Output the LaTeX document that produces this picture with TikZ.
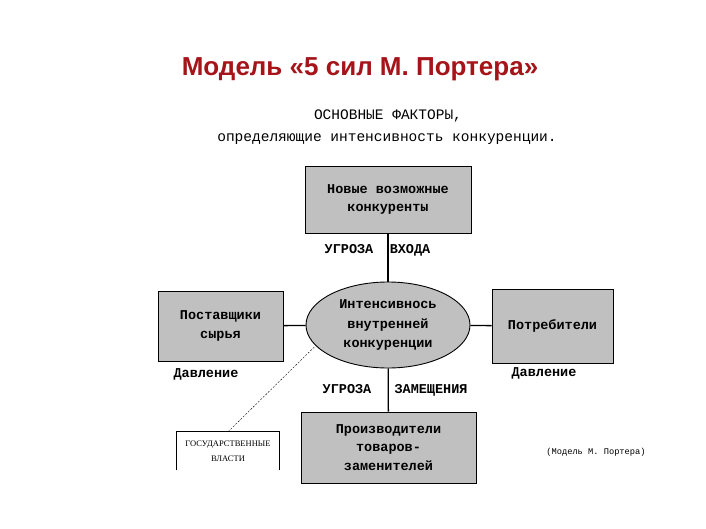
\documentclass[tikz,border=0pt]{standalone}
\usepackage{fontspec}
\setmainfont{Liberation Serif}
\setsansfont{Liberation Sans}
\setmonofont{Liberation Mono}
\usepackage{xcolor}
\usetikzlibrary{shapes.geometric}
\definecolor{titlered}{RGB}{165,20,25}
\definecolor{boxgray}{RGB}{192,192,192}

\begin{document}
\begin{tikzpicture}[x=1pt,y=-1pt,
  box/.style={draw,fill=boxgray,line width=0.9pt,inner sep=0pt,align=center,
    font=\ttfamily\bfseries\fontsize{13.5}{18.5}\selectfont},
  lbl/.style={anchor=base,inner sep=0pt,font=\ttfamily\bfseries\fontsize{13.5}{16}\selectfont},
  link/.style={line width=1.3pt}]
  \useasboundingbox (0,0) rectangle (706,529);
  % Title and heading
  \node[anchor=base,text=titlered,font=\sffamily\bfseries\fontsize{26}{30}\selectfont]
    (title) at (360,76) {Модель «5 сил М. Портера»};
  \node[anchor=base,font=\ttfamily\fontsize{14.5}{18}\selectfont] (hdrA) at (388,120) {ОСНОВНЫЕ ФАКТОРЫ,};
  \node[anchor=base,font=\ttfamily\fontsize{14.5}{18}\selectfont] (hdrB) at (387,142) {определяющие интенсивность конкуренции.};
  % Four boxes round the centre
  \node[box,minimum width=166,minimum height=67] (entr) at (388,199.5) {Новые возможные\\ конкуренты};
  \node[box,minimum width=125,minimum height=70] (suppl) at (220.5,326) {Поставщики\\ сырья};
  \node[box,minimum width=121,minimum height=74] (cust) at (552.5,326) {Потребители};
  \node[box,minimum width=175,minimum height=71] (subst) at (388.5,447.5) {Производители\\ товаров-\\ заменителей};
  % Centre ellipse
  \node[box,ellipse,minimum width=164,minimum height=86,
    font=\ttfamily\bfseries\fontsize{13.5}{19.5}\selectfont] (rival) at (388,325)
    {Интенсивнось\\ внутренней\\ конкуренции};
  % Government box, open at the bottom
  \node[minimum width=102,minimum height=38,inner sep=0pt,align=center,
    font=\rmfamily\fontsize{8.5}{15}\selectfont] (gov) at (228,451) {ГОСУДАРСТВЕННЫЕ\\ ВЛАСТИ};
  \draw[line width=0.9pt] (gov.south west) -- (gov.north west) -- (gov.north east) -- (gov.south east);
  % Connectors
  \draw[link] (entr) -- (rival);
  \draw[link] (rival) -- (subst);
  \draw[link] (suppl) -- (rival);
  \draw[link] (rival) -- (cust);
  \draw[thin,dash pattern=on 2pt off 1.5pt] (gov.north) -- (rival.196);
  % Labels
  \node[lbl] (thrA) at (349,254) {УГРОЗА};
  \node[lbl] (thrB) at (410,254) {ВХОДА};
  \node[lbl] (thrC) at (347,393) {УГРОЗА};
  \node[lbl] (thrD) at (431,393) {ЗАМЕЩЕНИЯ};
  \node[lbl] (prsA) at (206,377) {Давление};
  \node[lbl] (prsB) at (544,376) {Давление};
  \node[inner sep=0pt,font=\ttfamily\fontsize{8.7}{10}\selectfont] (note) at (596,452) {(Модель М. Портера)};
\end{tikzpicture}
\end{document}
